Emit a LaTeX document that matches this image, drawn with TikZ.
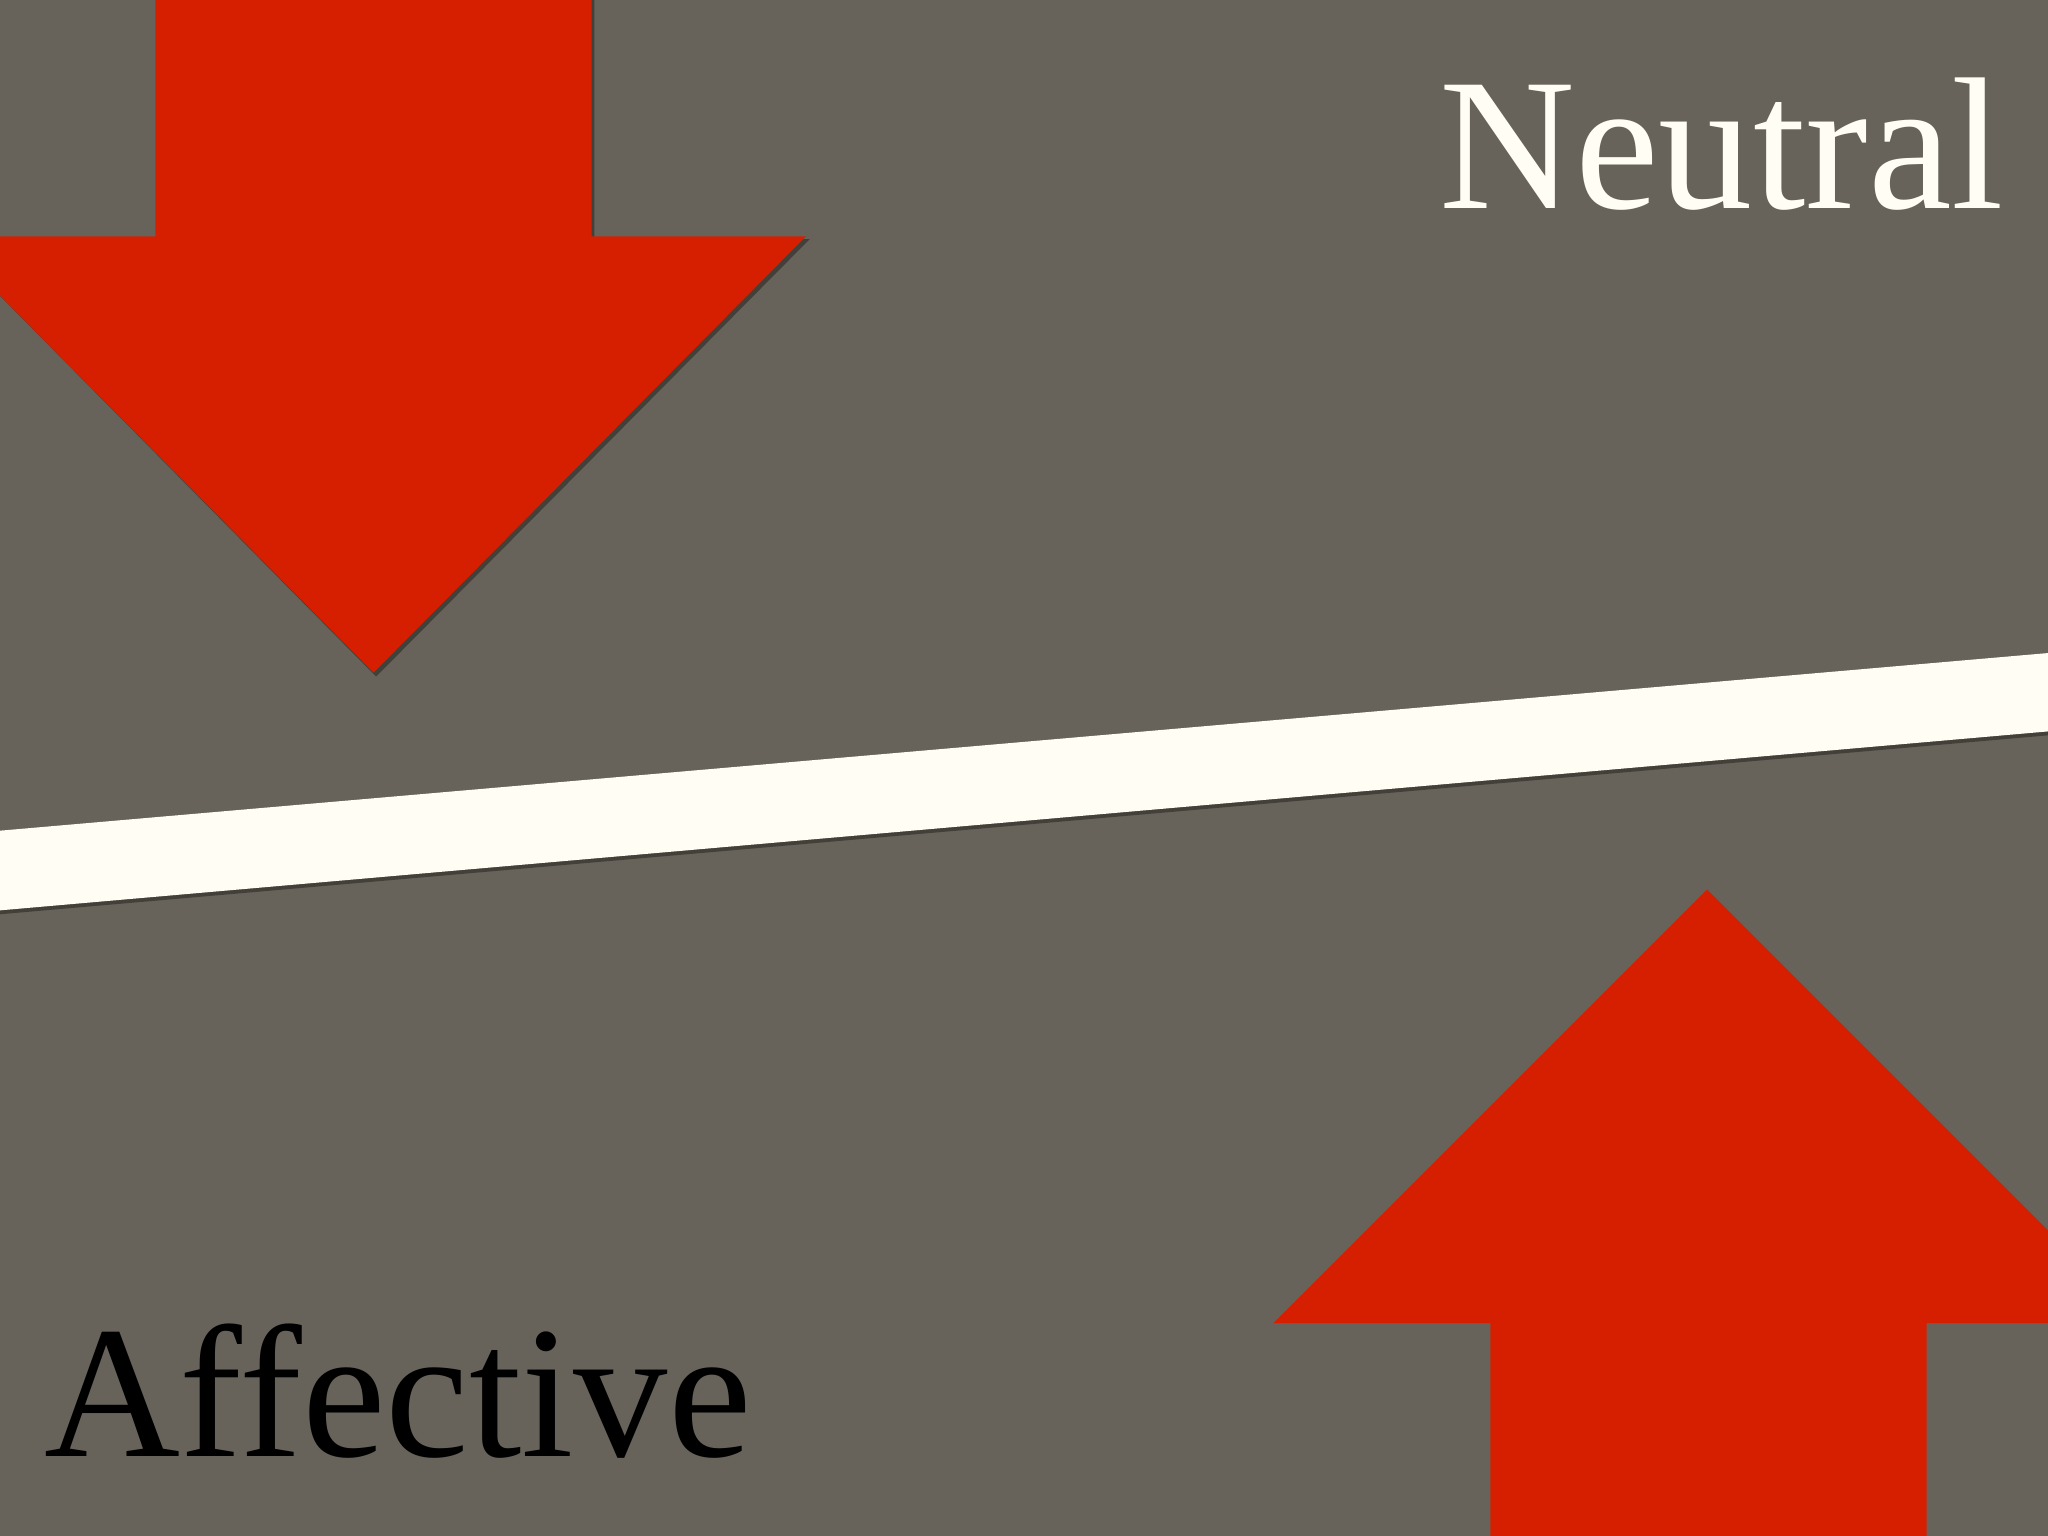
\documentclass[tikz,border=0pt]{standalone}
\usepackage{fontspec}
\setmainfont{Liberation Serif}
\definecolor{bg}{HTML}{67635A}
\definecolor{arrowred}{HTML}{D61E00}
\definecolor{band}{HTML}{FFFDF4}
\begin{document}
\begin{tikzpicture}[x=0.01cm,y=-0.01cm,
  redarrow/.style={fill=arrowred},
  shadow/.style={fill=black,opacity=0.35},
  label/.style={font=\fontsize{41}{41}\selectfont,inner sep=0}]
\fill[bg] (0,0) rectangle (1568,1176);
\useasboundingbox (0,0) rectangle (1568,1176);
\begin{scope}
\clip (0,0) rectangle (1568,1176);
% down arrow
\fill[shadow] (121,0) -- (121,183) -- (-43,183) -- (288,518) -- (620,183) -- (455,183) -- (455,0) -- cycle;
\fill[redarrow] (119,0) -- (119,181) -- (-45,181) -- (286,515) -- (617,181) -- (453,181) -- (453,0) -- cycle;
% band
\fill[shadow] (0,639) -- (1568,503) -- (1568,563) -- (0,700) -- cycle;
\fill[band] (0,636) -- (1568,500) -- (1568,560) -- (0,697) -- cycle;
% up arrow
\fill[redarrow] (1307,681) -- (1639,1013) -- (1475,1013) -- (1475,1176) -- (1141,1176) -- (1141,1013) -- (975,1013) -- cycle;
\end{scope}
\node[label,text=band,anchor=base east] (neutral) at (1535,160) {Neutral};
\node[label,text=black,anchor=base west] (affective) at (33,1115) {Affective};
\end{tikzpicture}
\end{document}
